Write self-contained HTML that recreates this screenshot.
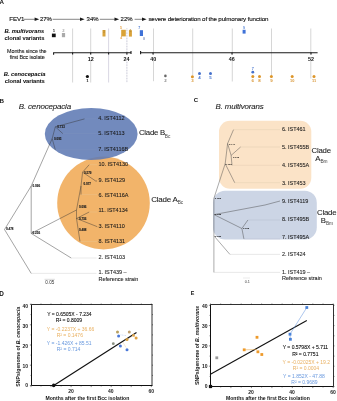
<!DOCTYPE html>
<html><head><meta charset="utf-8">
<style>
html,body{margin:0;padding:0;background:#fff;}
body{width:337px;height:401px;overflow:hidden;}
svg{display:block;will-change:transform;}
text{font-family:"Liberation Sans",sans-serif;}
.t{stroke:currentColor;stroke-width:0.18;}
.b{font-weight:bold;}
.i{font-style:italic;}
</style></head><body>
<svg width="337" height="401" viewBox="0 0 337 401">
<rect x="0" y="0" width="337" height="401" fill="#fff"/>

<!-- ============ PANEL A ============ -->
<text x="-0.4" y="4.3" font-size="6.2" class="b" fill="#111">A</text>
<g font-size="6.2" fill="#111" stroke="#111" stroke-width="0.13">
  <text x="9.3" y="21.2" letter-spacing="-0.15">FEV1</text>
  <text x="40" y="21.2" font-size="6" letter-spacing="-0.05">27%</text>
  <text x="86.6" y="21.2" font-size="6" letter-spacing="-0.05">34%</text>
  <text x="120.6" y="21.2" font-size="6" letter-spacing="-0.05">22%</text>
  <text x="148.4" y="21.2" letter-spacing="-0.13">severe deterioration of the pulmonary function</text>
</g>
<g stroke="#222" stroke-width="0.55" fill="#1a1a1a">
  <line x1="23.8" y1="19.3" x2="35.5" y2="19.3"/><path d="M39.2 19.3 L34.6 17.6 L34.6 21 Z" stroke="none"/>
  <line x1="52.6" y1="19.3" x2="81" y2="19.3"/><path d="M84.6 19.3 L80 17.6 L80 21 Z" stroke="none"/>
  <line x1="99.8" y1="19.3" x2="115.5" y2="19.3"/><path d="M119.1 19.3 L114.5 17.6 L114.5 21 Z" stroke="none"/>
  <line x1="134.6" y1="19.3" x2="143" y2="19.3"/><path d="M146.6 19.3 L142 17.6 L142 21 Z" stroke="none"/>
</g>
<g font-size="5.8" fill="#111" class="b" stroke="#111" stroke-width="0.04" letter-spacing="-0.04">
  <text x="4.4" y="32.8" class="i">B. multivorans</text>
  <text x="4.4" y="40">clonal variants</text>
  <text x="3.8" y="75.8" class="i">B. cenocepacia</text>
  <text x="4.8" y="82.6">clonal variants</text>
</g>
<g font-size="5.4" fill="#111" text-anchor="middle" stroke="#111" stroke-width="0.08" letter-spacing="-0.08">
  <text x="26.8" y="52.5">Months since the</text>
  <text x="27.2" y="59.3">first Bcc isolate</text>
</g>
<!-- vertical guide lines -->
<g stroke="#c4c4c4" stroke-width="0.7">
  <line x1="72.6" y1="28.5" x2="72.6" y2="82.5"/>
  <line x1="90.7" y1="28.5" x2="90.7" y2="82.5"/>
  <line x1="108.6" y1="28.5" x2="108.6" y2="82.5" stroke="#cac6d8"/>
  <line x1="153.5" y1="28.5" x2="153.5" y2="81.2"/>
  <line x1="192.7" y1="28.5" x2="192.7" y2="75.5"/>
  <line x1="232.3" y1="28.5" x2="232.3" y2="81.5"/>
  <line x1="271.5" y1="28.5" x2="271.5" y2="75"/>
  <line x1="310.8" y1="28.5" x2="310.8" y2="78.5"/>
</g>
<line x1="126.9" y1="28.5" x2="126.9" y2="82.5" stroke="#8a8aa8" stroke-width="0.6" stroke-dasharray="0.8 0.8"/>
<!-- timeline axis -->
<g stroke="#1a1a1a" stroke-width="1.1" fill="none">
  <path d="M53.6 54.8 V52.8 H131"/>
  <line x1="131" y1="51.1" x2="131" y2="54"/>
  <path d="M140.6 51.1 V54.2 M140.6 52.8 H317.6"/>
  <line x1="72.6" y1="52.6" x2="72.6" y2="54.4"/>
  <line x1="90.7" y1="52.6" x2="90.7" y2="54.4"/>
  <line x1="108.6" y1="52.6" x2="108.6" y2="54.4"/>
  <line x1="126.9" y1="52.6" x2="126.9" y2="54.4"/>
  <line x1="153" y1="52.6" x2="153" y2="54.4"/>
  <line x1="232" y1="52.6" x2="232" y2="54.4"/>
  <line x1="311" y1="52.6" x2="311" y2="54.4"/>
</g>
<g font-size="5.4" class="b" fill="#111" text-anchor="middle">
  <rect x="86" y="55" width="9" height="5.5" fill="#fff"/>
  <text x="90.7" y="61">12</text>
  <rect x="122" y="55" width="9" height="5.5" fill="#fff"/>
  <text x="126.6" y="61">24</text>
  <rect x="148.5" y="55" width="9" height="5.5" fill="#fff"/>
  <text x="153.2" y="61">40</text>
  <rect x="227" y="55" width="9" height="5.5" fill="#fff"/>
  <text x="231.8" y="61">46</text>
  <rect x="306" y="55" width="9" height="5.5" fill="#fff"/>
  <text x="311" y="61">52</text>
</g>
<!-- multivorans markers -->
<g font-size="4.2" text-anchor="middle" class="b">
  <text x="53.8" y="32" fill="#222">1</text><rect x="51.9" y="33.6" width="3.8" height="3.6" fill="#111"/>
  <text x="63.5" y="32" fill="#aaa">2</text><rect x="61.9" y="33" width="3.2" height="4.2" fill="#aaa"/>
  <rect x="102.5" y="30" width="3" height="6.5" fill="#d9a43c"/><text x="104" y="32.5" fill="#b88a30" font-size="3.4">3</text>
  <rect x="121.2" y="29.8" width="4.6" height="6.6" fill="#d9a236"/><text x="121" y="29.4" fill="#e6a850" font-size="3.6">5</text>
  <text x="121.2" y="38.6" fill="#e6a850" font-size="3.4">4</text>
  <rect x="128.9" y="30.2" width="3" height="6.4" fill="#d9a23a"/><text x="130.4" y="31.5" fill="#b88a30" font-size="3.4">6</text>
  <rect x="139.8" y="30.2" width="3.2" height="5.8" fill="#3f72d8"/><text x="139.3" y="29.2" fill="#4a78d0" font-size="3.6">7</text>
  <text x="144" y="40" fill="#8a9ac0" font-size="3.6">8</text>
  <rect x="242.6" y="29.8" width="3" height="3.8" fill="#3f72d8"/><text x="244" y="29.4" fill="#5a88d8" font-size="3.6">9</text>
</g>
<!-- cenocepacia markers -->
<g font-size="4.4" text-anchor="middle" class="b">
  <circle cx="87.4" cy="76.5" r="1.6" fill="#111"/><text x="87.4" y="82" fill="#222">1</text>
  <circle cx="165.4" cy="75.9" r="1.3" fill="#666"/><text x="165.4" y="82" fill="#888">2</text>
  <circle cx="192.4" cy="76.8" r="1.5" fill="#dd962a"/><text x="192.4" y="82.2" fill="#d89430">3</text>
  <circle cx="199.5" cy="73.5" r="1.5" fill="#4672cc"/><text x="199.5" y="79" fill="#4a78d0">4</text>
  <circle cx="210.5" cy="73.5" r="1.5" fill="#4672cc"/><text x="210.5" y="79" fill="#4a78d0">5</text>
  <text x="252.8" y="70" fill="#4a78d0" font-size="3.8">7</text><circle cx="252.8" cy="72.2" r="1.4" fill="#4672cc"/>
  <circle cx="252.8" cy="76.4" r="1.5" fill="#dd962a"/><text x="252.8" y="81.8" fill="#d89430">6</text>
  <circle cx="259.5" cy="76.4" r="1.5" fill="#dd962a"/><text x="259.5" y="81.8" fill="#d89430">8</text>
  <circle cx="271.4" cy="76.4" r="1.5" fill="#dd962a"/><text x="271.4" y="81.8" fill="#d89430">9</text>
  <circle cx="292.2" cy="76.4" r="1.5" fill="#dd962a"/><text x="292.2" y="81.8" fill="#d89430" font-size="3.9">10</text>
  <circle cx="314" cy="76.4" r="1.5" fill="#dd962a"/><text x="314" y="81.8" fill="#d89430" font-size="3.9">11</text>
</g>

<!-- ============ PANEL B ============ -->
<text x="-0.6" y="102.5" font-size="6.2" class="b" fill="#111">B</text>
<text x="18.8" y="108.9" font-size="8" class="i" fill="#1a1a1a" stroke="#1a1a1a" stroke-width="0.08" letter-spacing="-0.18">B. cenocepacia</text>
<ellipse cx="103.5" cy="203" rx="46.3" ry="46.4" fill="#f2b46a"/>
<ellipse cx="91.2" cy="134" rx="46.4" ry="26" fill="#5f7ab4" fill-opacity="0.88"/>

<!-- tree B -->
<g stroke="#c9c9c9" stroke-width="0.4" fill="none">
  <path d="M71.2 258 H96.5 M31.2 273.4 H96.5"/>
</g>
<g stroke="#8194c0" stroke-width="0.35" fill="none">
  <path d="M84.5 118.9 H96.5 M62.8 133.6 H96.5 M55.3 149.8 H96.5"/>
</g>
<g stroke="#e9c89a" stroke-width="0.35" fill="none">
  <path d="M89.2 164.7 H97 M81 194.6 H97 M89.2 212 H97 M80 241.5 H97"/>
</g>
<g stroke="#333" stroke-width="0.45" fill="none">
  <path d="M4.5 229.5 L31.2 186 L52.2 138.6 L55.3 126.8 L84.5 118.9"/>
  <path d="M55.3 126.8 L62.8 133.6"/>
  <path d="M52.2 138.6 L55.3 149.8"/>
  <path d="M31.2 186 V233.4 L76.5 210"/>
  <path d="M89.2 164.7 L82.6 172.2 L95.7 181 L97 181"/>
  <path d="M82.6 172.2 L81 186 L76.5 210 L76.5 218.5 L80 241.5"/>
  <path d="M81 186 L81 194.6"/>
  <path d="M76.5 218.5 L89.2 212"/>
  <path d="M76.5 218.5 L97.3 226.7"/>
  <path d="M31.2 233.4 L71.2 258"/>
  <path d="M4.5 229.5 L31.2 273.4"/>
</g>
<g font-size="3" class="b" fill="#222" stroke="#222" stroke-width="0.12">
  <text x="57.3" y="128">0.733</text>
  <text x="54" y="139.5">0.095</text>
  <text x="32.6" y="187">0.096</text>
  <text x="6" y="230.4">0.478</text>
  <text x="32.6" y="234.3">0.256</text>
  <text x="84" y="173.6">0.579</text>
  <text x="83.5" y="185.2">0.077</text>
  <text x="79" y="208">0.096</text>
  <text x="79" y="220">0.756</text>
  <text x="79" y="230.8">0.488</text>
</g>
<g font-size="5.5" fill="#1a1a1a" stroke="#1a1a1a" stroke-width="0.08" letter-spacing="-0.03">
  <text x="98.3" y="119.8">4. IST4112</text>
  <text x="98.3" y="135.2">5. IST4113</text>
  <text x="98.3" y="150.7">7. IST4116B</text>
  <text x="98.5" y="166.1">10. IST4130</text>
  <text x="98.5" y="181.5">9. IST4129</text>
  <text x="98.5" y="196.9">6. IST4116A</text>
  <text x="98.5" y="212.4">11. IST4134</text>
  <text x="98.5" y="227.8">3. IST4110</text>
  <text x="98.5" y="243.2">8. IST4131</text>
  <text x="98.5" y="258.7">2. IST4103</text>
  <text x="98.5" y="274.1">1. IST439 –</text>
  <text x="98.5" y="280.6">Reference strain</text>
</g>
<text x="139" y="135.3" font-size="7.8" fill="#1a1a1a" stroke="#1a1a1a" stroke-width="0.08" letter-spacing="-0.27">Clade B<tspan font-size="4.8" dy="2.2" fill="#444" stroke="none" letter-spacing="-0.1">Bc</tspan></text>
<text x="151.2" y="201.8" font-size="8" fill="#1a1a1a" stroke="#1a1a1a" stroke-width="0.08" letter-spacing="-0.22">Clade A<tspan font-size="4.8" dy="2" fill="#444" stroke="none" letter-spacing="-0.1">Bc</tspan></text>
<line x1="44.5" y1="279.3" x2="54.9" y2="279.3" stroke="#999" stroke-width="0.35"/>
<text x="49.8" y="284" font-size="4.6" fill="#333" text-anchor="middle">0.05</text>

<!-- ============ PANEL C ============ -->
<text x="193.8" y="102.3" font-size="6" class="b" fill="#111">C</text>
<text x="215.6" y="108.9" font-size="7.9" class="i" fill="#1a1a1a" stroke="#1a1a1a" stroke-width="0.08" letter-spacing="-0.15">B. multivorans</text>
<rect x="219" y="120.7" width="92.3" height="68" rx="11" fill="#fbe3c7"/>
<rect x="213" y="190.8" width="103.8" height="48.7" rx="12" fill="#ccd5e5"/>
<g stroke="#d8c4ac" stroke-width="0.35" fill="none">
  <path d="M233.5 129.7 H280 M240.6 147 H280 M232 165.3 H280 M234.7 182.7 H280"/>
</g>
<g stroke="#b0b8c8" stroke-width="0.35" fill="none">
  <path d="M247.9 220 H280 M243.9 238.9 H280"/>
</g>
<g stroke="#444" stroke-width="0.45" fill="none">
  <path d="M225.2 163.7 L227.6 143.5 L233.5 129.7"/>
  <path d="M227.6 143.5 L231.1 155.4 L240.6 147"/>
  <path d="M231.1 155.4 L232 165.3"/>
  <path d="M225.2 163.7 L234.7 182.7"/>
  <path d="M225.2 163.7 L213.9 198.3 V272.4"/>
  <path d="M214 214.6 L265 205"/>
  <path d="M265 205 L280 201"/>
  <path d="M214 214.6 L241.9 228.5 L247.9 220"/>
  <path d="M241.9 228.5 L243.9 238.9"/>
  <path d="M214 235.9 L229.9 254.4"/>
</g>
<g stroke="#c8c8c8" stroke-width="0.4" fill="none">
  <path d="M229.9 254.4 H280 M213.9 272.4 H280"/>
</g>
<g font-size="2.5" class="b" fill="#111">
  <text x="229" y="144.6">0.747</text>
  <text x="233" y="158.4">0.976</text>
  <text x="225.6" y="165">0.766</text>
  <text x="214.8" y="199">0.983</text>
  <text x="215" y="215.3">0.982</text>
  <text x="242.9" y="229.2">0.932</text>
  <text x="215" y="236.6">0.983</text>
</g>
<g font-size="5.5" fill="#1a1a1a" stroke="#1a1a1a" stroke-width="0.08" letter-spacing="-0.03">
  <text x="282" y="130.9">6. IST461</text>
  <text x="282" y="148.9">5. IST455B</text>
  <text x="282" y="166.8">4. IST455A</text>
  <text x="282" y="184.7">3. IST453</text>
  <text x="282" y="202.6">9. IST4119</text>
  <text x="282" y="220.6">8. IST495B</text>
  <text x="282" y="238.5">7. IST495A</text>
  <text x="282" y="256.4">2. IST424</text>
  <text x="282" y="274.3">1. IST419 –</text>
  <text x="282" y="280.3">Reference strain</text>
</g>
<text x="311.5" y="153" font-size="7.8" fill="#1a1a1a" stroke="#1a1a1a" stroke-width="0.08" letter-spacing="-0.22">Clade</text>
<text x="315.2" y="161.4" font-size="7.8" fill="#1a1a1a" stroke="#1a1a1a" stroke-width="0.08">A<tspan font-size="4.8" dy="1.5" fill="#444" stroke="none" letter-spacing="-0.1">Bm</tspan></text>
<text x="317" y="215.4" font-size="7.8" fill="#1a1a1a" stroke="#1a1a1a" stroke-width="0.08" letter-spacing="-0.22">Clade</text>
<text x="320.7" y="223.4" font-size="7.8" fill="#1a1a1a" stroke="#1a1a1a" stroke-width="0.08">B<tspan font-size="4.8" dy="1.8" fill="#444" stroke="none" letter-spacing="-0.1">Bm</tspan></text>
<line x1="243" y1="278" x2="250" y2="278" stroke="#bbb" stroke-width="0.3"/>
<text x="247.3" y="283" font-size="3.8" fill="#444" text-anchor="middle">0.1</text>

<!-- ============ PANEL D ============ -->
<text x="-0.8" y="296" font-size="6.4" class="b" fill="#111">D</text>
<g stroke="#222" stroke-width="0.7" fill="none">
  <path stroke="#1a1a1a" stroke-width="0.9" d="M31.5 304.5H152V385.5"/>
  <path stroke-width="0.55" d="M31.0 385.5v1.6M31.0 304.5v-1.0M41.0 385.5v1.0M41.0 304.5v-1.0M51.0 385.5v1.6M51.0 304.5v-1.0M61.1 385.5v1.0M61.1 304.5v-1.0M71.1 385.5v1.6M71.1 304.5v-1.0M81.1 385.5v1.0M81.1 304.5v-1.0M91.2 385.5v1.6M91.2 304.5v-1.0M101.2 385.5v1.0M101.2 304.5v-1.0M111.2 385.5v1.6M111.2 304.5v-1.0M121.2 385.5v1.0M121.2 304.5v-1.0M131.2 385.5v1.6M131.2 304.5v-1.0M141.3 385.5v1.0M141.3 304.5v-1.0M151.3 385.5v1.6M151.3 304.5v-1.0M31.5 385.5h-1.6M152.0 385.5h1.0M31.5 375.4h-1.0M152.0 375.4h1.0M31.5 365.2h-1.6M152.0 365.2h1.0M31.5 355.1h-1.0M152.0 355.1h1.0M31.5 345.0h-1.6M152.0 345.0h1.0M31.5 334.9h-1.0M152.0 334.9h1.0M31.5 324.8h-1.6M152.0 324.8h1.0M31.5 314.6h-1.0M152.0 314.6h1.0M31.5 304.5h-1.6M152.0 304.5h1.0"/>
  <path stroke="#111" stroke-width="1" d="M31.5 304.5V385.5H152"/>
</g>
<text transform="translate(19.8 346.7) rotate(-90)" font-size="5.17" class="b" fill="#1a1a1a" text-anchor="middle">SNPs/genome of <tspan class="i">B. cenocepacia</tspan></text>
<g font-size="5" class="b" fill="#222" text-anchor="end">
  <text x="28" y="307.8">40</text>
  <text x="28" y="327.8">30</text>
  <text x="28" y="347.8">20</text>
  <text x="28" y="367.6">10</text>
  <text x="28" y="387.4">0</text>
</g>
<g font-size="5" class="b" fill="#222" text-anchor="middle">
  <text x="71" y="392.5">20</text>
  <text x="110.8" y="392.5">40</text>
  <text x="151.3" y="392.5">60</text>
</g>
<text x="87.4" y="399.8" font-size="5.1" class="b" fill="#111" text-anchor="middle">Months after the first Bcc isolation</text>
<g font-size="5" text-anchor="middle">
  <text x="69.4" y="315.8" fill="#111" stroke="#111" stroke-width="0.1">Y = 0.6505X - 7.234</text>
  <text x="69" y="322" fill="#111" stroke="#111" stroke-width="0.1">R² = 0.8009</text>
  <text x="70.6" y="331" fill="#e9b060">Y = -0.2237X + 36.66</text>
  <text x="69.8" y="337.2" fill="#e9b060">R² = 0.1476</text>
  <text x="69.2" y="345.2" fill="#6898de">Y = -1.426X + 85.51</text>
  <text x="68.5" y="351.4" fill="#6898de">R² = 0.714</text>
</g>
<g stroke="#f0c890" stroke-width="0.4" fill="none">
  <path d="M127 339.6 L133.5 335.4 L136.1 338 M122.8 342 L126 347.5"/>
</g>
<g stroke="#8fb0e8" stroke-width="0.45" fill="none" stroke-dasharray="0.9 0.6">
  <path d="M120.6 334.8 L126 335.6"/>
</g>
<line x1="53.7" y1="385.4" x2="136.5" y2="332.4" stroke="#111" stroke-width="1.15"/>
<g>
  <circle cx="117.5" cy="331.9" r="1.5" fill="#b8a060"/>
  <circle cx="129.3" cy="331.9" r="1.5" fill="#c0a070"/>
  <circle cx="127" cy="339.6" r="1.5" fill="#d9a040"/>
  <circle cx="133.5" cy="335.4" r="1.4" fill="#e0a850"/>
  <circle cx="136.1" cy="338" r="1.5" fill="#e0a040"/>
  <circle cx="118.6" cy="336" r="1.5" fill="#4a78d8"/>
  <circle cx="120.4" cy="346.1" r="1.5" fill="#4a78d8"/>
  <circle cx="127" cy="349.7" r="1.5" fill="#4a78d8"/>
  <circle cx="113.3" cy="343.7" r="1.4" fill="#8a9080"/>
</g>
<circle cx="53.7" cy="385.4" r="1.8" fill="#111"/>

<!-- ============ PANEL E ============ -->
<text x="190.8" y="295.3" font-size="5.4" class="b" fill="#111">E</text>
<g stroke="#222" stroke-width="0.7" fill="none">
  <path stroke="#1a1a1a" stroke-width="0.9" d="M210.5 304.5H333.5V386.5"/>
  <path stroke-width="0.55" d="M210.5 386.5v1.6M210.5 304.5v-1.0M220.7 386.5v1.0M220.7 304.5v-1.0M230.9 386.5v1.6M230.9 304.5v-1.0M241.2 386.5v1.0M241.2 304.5v-1.0M251.4 386.5v1.6M251.4 304.5v-1.0M261.6 386.5v1.0M261.6 304.5v-1.0M271.9 386.5v1.6M271.9 304.5v-1.0M282.1 386.5v1.0M282.1 304.5v-1.0M292.3 386.5v1.6M292.3 304.5v-1.0M302.5 386.5v1.0M302.5 304.5v-1.0M312.8 386.5v1.6M312.8 304.5v-1.0M323.0 386.5v1.0M323.0 304.5v-1.0M333.2 386.5v1.6M333.2 304.5v-1.0M210.5 386.5h-1.6M333.5 386.5h1.0M210.5 376.4h-1.0M333.5 376.4h1.0M210.5 366.2h-1.6M333.5 366.2h1.0M210.5 356.1h-1.0M333.5 356.1h1.0M210.5 345.9h-1.6M333.5 345.9h1.0M210.5 335.8h-1.0M333.5 335.8h1.0M210.5 325.6h-1.6M333.5 325.6h1.0M210.5 315.4h-1.0M333.5 315.4h1.0M210.5 305.3h-1.6M333.5 305.3h1.0"/>
  <path stroke="#111" stroke-width="1" d="M210.5 304.5V386.5H333.5"/>
</g>
<text transform="translate(199.4 345.3) rotate(-90)" font-size="5.23" class="b" fill="#1a1a1a" text-anchor="middle">SNPs/genome of <tspan class="i">B. multivorans</tspan></text>
<g font-size="5" class="b" fill="#222" text-anchor="end">
  <text x="207.5" y="307.8">40</text>
  <text x="207.5" y="328">30</text>
  <text x="207.5" y="348.2">20</text>
  <text x="207.5" y="368">10</text>
  <text x="207.5" y="388.3">0</text>
</g>
<g font-size="5" class="b" fill="#222" text-anchor="middle">
  <text x="251" y="394">20</text>
  <text x="292" y="394">40</text>
  <text x="333" y="394">60</text>
</g>
<text x="267.9" y="400.2" font-size="5.1" class="b" fill="#111" text-anchor="middle">Months after the first Bcc isolation</text>
<line x1="210" y1="374.6" x2="306.8" y2="320.5" stroke="#111" stroke-width="1.1"/>
<rect x="208.9" y="384.9" width="3.2" height="3.2" fill="#111"/>
<g font-size="5" text-anchor="middle">
  <text x="305.4" y="349.2" fill="#111" stroke="#111" stroke-width="0.1">Y = 0.5798X + 5.711</text>
  <text x="305.3" y="355.8" fill="#111" stroke="#111" stroke-width="0.1">R² = 0.7751</text>
  <text x="306.3" y="363.7" fill="#e9b060">Y = -0.02025X + 19.2</text>
  <text x="306" y="370.4" fill="#e9b060">R² = 0.0004</text>
  <text x="303.9" y="378" fill="#6898de">Y = 1.852X - 47.88</text>
  <text x="304.5" y="384.3" fill="#6898de">R² = 0.9689</text>
</g>
<g stroke="#e3a040" stroke-width="0.5" fill="none">
  <path d="M244.2 349.8 L257 349.5"/>
</g>
<g stroke="#5b8fdc" stroke-width="0.5" fill="none">
  <path d="M290.4 339.3 L290 334.2 L306.8 307.5"/>
</g>
<g>
  <rect x="242.8" y="348.4" width="2.8" height="2.8" fill="#ee9a2a"/>
  <rect x="255.6" y="335.9" width="2.8" height="2.8" fill="#ee9a2a"/>
  <rect x="256.5" y="350.4" width="2.8" height="2.8" fill="#ee9a2a"/>
  <rect x="260.4" y="353.1" width="2.8" height="2.8" fill="#ee9a2a"/>
  <rect x="288.6" y="332.8" width="2.8" height="2.8" fill="#4a82d8"/>
  <rect x="289" y="337.9" width="2.8" height="2.8" fill="#4a82d8"/>
  <rect x="305.4" y="306.1" width="2.8" height="2.8" fill="#4a82d8"/>
  <rect x="215.4" y="356.4" width="2.8" height="2.8" fill="#999"/>
</g>
</svg>
</body></html>
